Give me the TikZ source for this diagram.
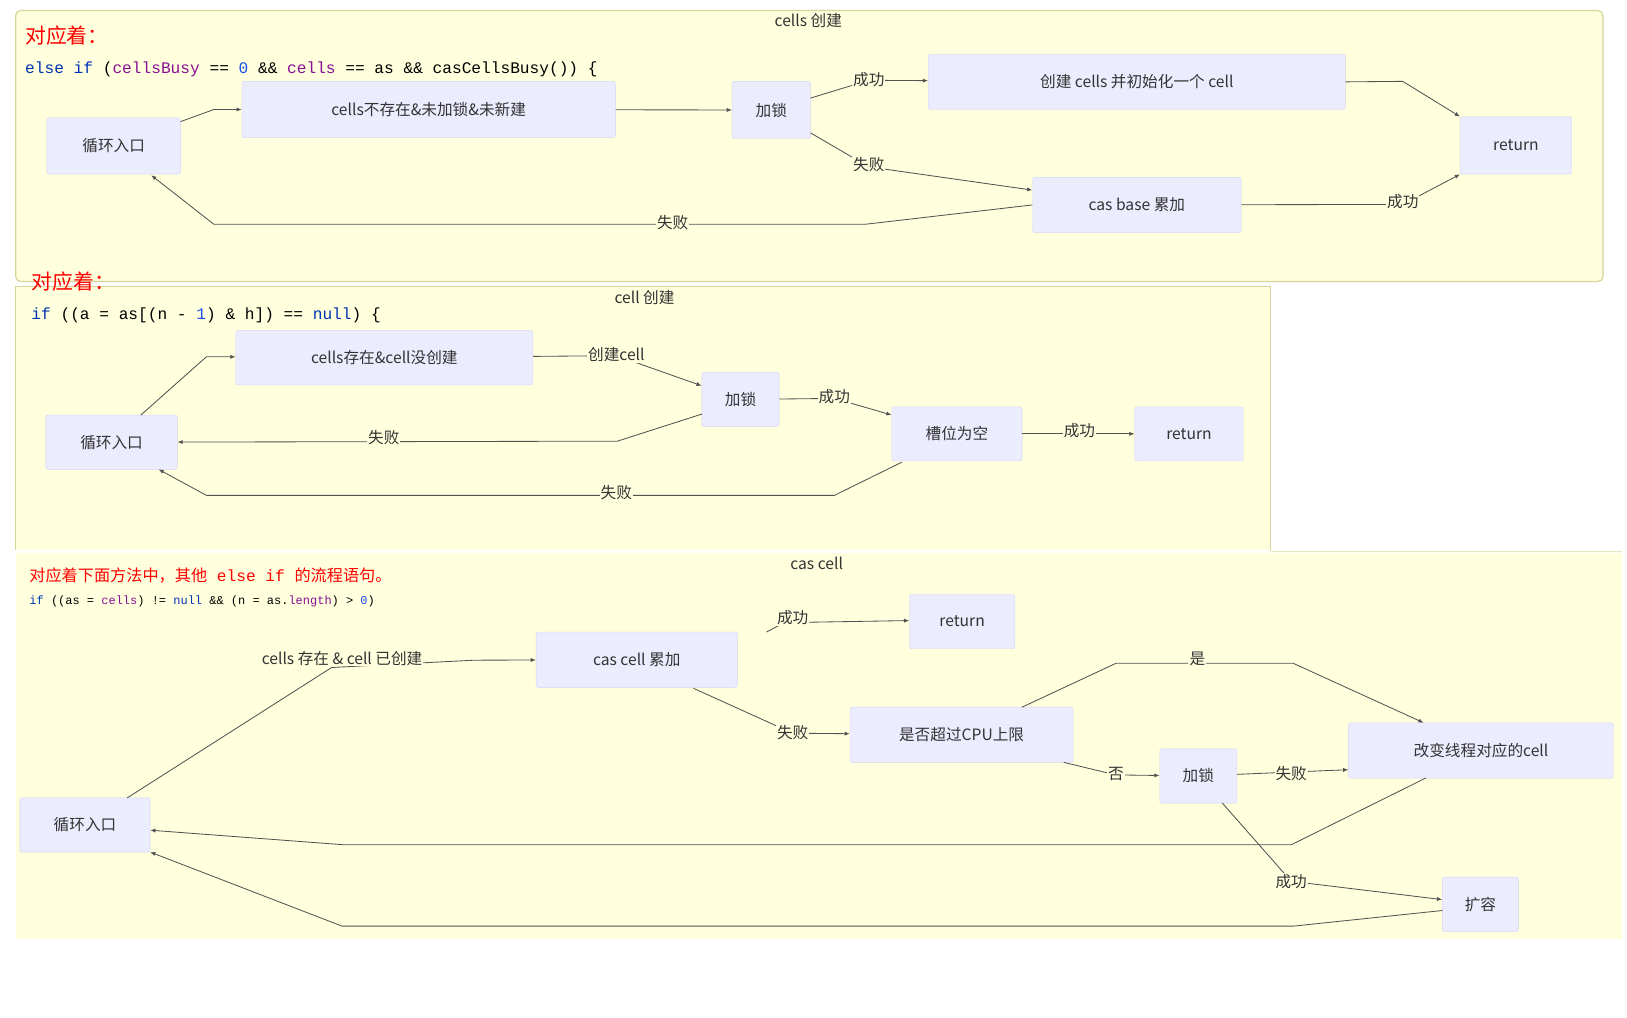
\documentclass[tikz,border=0pt]{standalone}
\usepackage{fontspec}
\setmainfont{Noto Sans CJK SC}
\newfontfamily\cjk{Noto Sans CJK SC}
\newfontfamily\codef{Liberation Mono}
\usetikzlibrary{arrows.meta}
\definecolor{panel}{HTML}{FFFFDE}
\definecolor{pborder}{HTML}{D6D69A}
\definecolor{boxf}{HTML}{ECECFF}
\definecolor{boxd}{HTML}{D4D4F7}
\definecolor{txt}{HTML}{333333}
\definecolor{kw}{HTML}{0033B3}
\definecolor{vr}{HTML}{871094}
\definecolor{num}{HTML}{1750EB}
\tikzset{
 box/.style={draw=boxd,fill=boxf,rounded corners=2pt,text=txt,font=\cjk\fontsize{15}{18}\selectfont,inner sep=0pt},
 lbl/.style={fill=panel,text=txt,font=\cjk\fontsize{15}{18}\selectfont,inner sep=1pt},
 ttl/.style={text=txt,font=\cjk\fontsize{15}{18}\selectfont},
 edge/.style={draw=txt!85,line width=0.8pt,-{Latex[length=5pt,width=4pt]}},
 red/.style={text=red,font=\cjk\fontsize{20}{24}\selectfont,anchor=west,inner sep=0pt},
}
\begin{document}
\begin{tikzpicture}[x=1pt,y=-1pt]
\useasboundingbox (0,0) rectangle (1560,976);
\fill[white] (0,0) rectangle (1560,976);
% panels
\draw[fill=panel,draw=pborder,line width=1.2pt,rounded corners=5pt] (15,10) rectangle (1537,270);
\fill[panel] (15,275) rectangle (1218,527);
\draw[pborder,line width=1pt] (15,527) -- (15,275) -- (1218,275) -- (1218,527);
\fill[panel] (15,530) rectangle (1555,900);
\draw[pborder!60,line width=0.6pt] (1218,529) -- (1555,529);
% titles
\node[ttl] (t1) at (775,20) {cells 创建};
\node[ttl] (t2) at (618,285) {cell 创建};
\node[ttl] (t3) at (783,540) {cas cell};
\node[red] (r1) at (24,34) {对应着：};
\node[anchor=west,inner sep=0pt,font=\codef\fontsize{15.5}{18}\selectfont] (c1) at (24,66) {\textcolor{kw}{else if} (\textcolor{vr}{cellsBusy} == \textcolor{num}{0} \&\& \textcolor{vr}{cells} == as \&\& casCellsBusy()) \{};
\node[red] (r2) at (30,270) {对应着：};
\node[anchor=west,inner sep=0pt,font=\codef\fontsize{15.5}{18}\selectfont] (c2) at (30,302) {\textcolor{kw}{if} ((a = as[(n - \textcolor{num}{1}) \& h]) == \textcolor{kw}{null}) \{};
\node[anchor=west,inner sep=0pt,text=red,font=\codef\fontsize{15.5}{18}\selectfont] (r3) at (28,552) {{\cjk 对应着下面方法中，其他} else if {\cjk 的流程语句。}};
\node[anchor=west,inner sep=0pt,font=\codef\fontsize{11.5}{14}\selectfont] (c3) at (28,577) {\textcolor{kw}{if} ((as = \textcolor{vr}{cells}) != \textcolor{kw}{null} \&\& (n = as.\textcolor{vr}{length}) > \textcolor{num}{0})};
% panel 1
\node[box,minimum width=128,minimum height=54] (loop1) at (109,140) {循环入口};
\node[box,minimum width=358,minimum height=54] (n1a) at (411,105) {cells不存在\&未加锁\&未新建};
\node[box,minimum width=75,minimum height=55] (lock1) at (739.5,105.5) {加锁};
\node[box,minimum width=400,minimum height=53] (create) at (1090,78.5) {创建 cells 并初始化一个 cell};
\node[box,minimum width=107,minimum height=55] (ret1) at (1453.5,139.5) {return};
\node[box,minimum width=200,minimum height=53] (casbase) at (1090,196.5) {cas base 累加};
\draw[edge] (loop1) -- (205,105) -- (n1a);
\draw[edge] (n1a) -- (lock1);
\draw[edge] (lock1) -- (833,77) -- (create);
\node[lbl] (l1) at (833,76) {成功};
\draw[edge] (lock1) -- (833,160) -- (casbase);
\node[lbl] (l2) at (833,158) {失败};
\draw[edge] (create.east) -- (1345,78) -- (ret1.north west);
\draw[edge] (casbase) -- (1345,196) -- (ret1.south west);
\node[lbl] (l3) at (1345,193) {成功};
\draw[edge] (casbase.west) -- (830,215) -- (205,215) -- (145,168);
\node[lbl] (l4) at (645,213) {失败};
% panel 2
\node[box,minimum width=126,minimum height=52] (loop2) at (107,424) {循环入口};
\node[box,minimum width=285,minimum height=52] (n2a) at (368.5,343) {cells存在\&cell没创建};
\node[box,minimum width=74,minimum height=52] (lock2) at (710,383) {加锁};
\node[box,minimum width=125,minimum height=52] (empty) at (917.5,416) {槽位为空};
\node[box,minimum width=104,minimum height=52] (ret2) at (1140,416) {return};
\draw[edge] (135,398) -- (198,342) -- (n2a);
\draw[edge] (n2a) -- (591,341) -- (lock2);
\node[lbl] (l5) at (591,340) {创建cell};
\draw[edge] (lock2) -- (800,382) -- (empty);
\node[lbl] (l6) at (800,380) {成功};
\draw[edge] (empty) -- (ret2);
\node[lbl] (l7) at (1035,413) {成功};
\draw[edge] (673,397) -- (592,423) -- (loop2);
\node[lbl] (l8) at (368,420) {失败};
\draw[edge] (865,443) -- (800,475) -- (198,475) -- (152,450);
\node[lbl] (l9) at (591,472) {失败};
% panel 3
\node[box,minimum width=125,minimum height=52] (loop3) at (81.5,791) {循环入口};
\node[box,minimum width=193,minimum height=53] (cascell) at (610.5,632.5) {cas cell 累加};
\node[box,minimum width=101,minimum height=52] (ret3) at (922.5,596) {return};
\node[box,minimum width=214,minimum height=53] (cpu) at (922,704.5) {是否超过CPU上限};
\node[box,minimum width=74,minimum height=52] (lock3) at (1149,744) {加锁};
\node[box,minimum width=254,minimum height=53] (change) at (1420,719.5) {改变线程对应的cell};
\node[box,minimum width=73,minimum height=52] (expand) at (1419.5,867) {扩容};
\draw[edge] (122,765) -- (318,640) -- (455,633) -- (cascell);
\node[lbl] (l10) at (328,631) {cells 存在 \& cell 已创建};
\draw[edge] (735,606) -- (752,597) -- (ret3.west |- 0,595);
\node[lbl] (l11) at (760,592) {成功};
\draw[edge] (665,660) -- (760,703) -- (cpu);
\node[lbl] (l12) at (760,702) {失败};
\draw[edge] (980,678) -- (1070,636) -- (1240,636) -- (1365,693);
\node[lbl] (l13) at (1148,632) {是};
\draw[edge] (1020,731) -- (1070,743) -- (lock3);
\node[lbl] (l14) at (1070,742) {否};
\draw[edge] (lock3) -- (change.west |- 0,738);
\node[lbl] (l15) at (1238,742) {失败};
\draw[edge] (1172,770) -- (1238,845) -- (expand);
\node[lbl] (l16) at (1238,845) {成功};
\draw[edge] (1367,746) -- (1238,810) -- (330,810) -- (144,796);
\draw[edge] (1383,873) -- (1240,888) -- (328,888) -- (144,817);
\end{tikzpicture}
\end{document}
